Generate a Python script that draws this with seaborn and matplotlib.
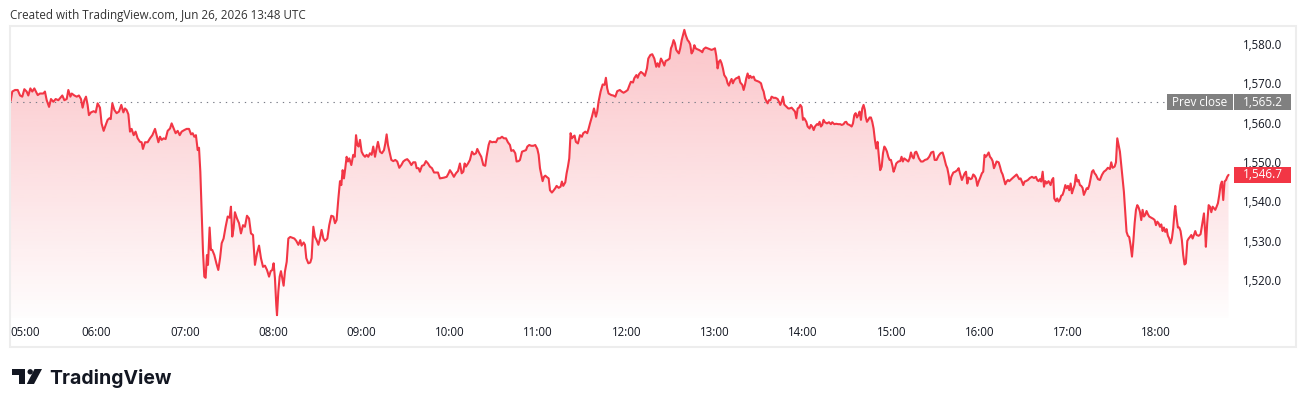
import numpy as np
import pandas as pd
import seaborn as sns
import matplotlib.pyplot as plt
import matplotlib.dates as mdates
import matplotlib.colors as mcolors
from matplotlib.patches import Rectangle, Polygon, Ellipse
from matplotlib.transforms import blended_transform_factory

# minutes after 05:00 and the traded price at that moment
minutes = [
    1.6, 2.7, 4.6, 6.4, 8.0, 9.5, 10.9, 12.5, 13.6, 15.0,
    16.3, 17.7, 18.8, 20.0, 21.5, 23.8, 24.9, 26.1, 27.7, 29.0,
    30.6, 32.2, 34.0, 35.1, 36.7, 38.1, 39.7, 40.8, 42.2, 43.1,
    44.9, 46.5, 48.0, 49.4, 50.5, 51.7, 52.8, 53.9, 54.8, 56.2,
    58.0, 59.4, 60.7, 62.3, 63.4, 64.8, 66.2, 67.5, 68.7, 69.6,
    70.7, 72.1, 73.6, 75.2, 76.8, 78.2, 79.3, 80.4, 81.6, 82.7,
    83.8, 85.2, 86.5, 87.9, 89.5, 90.6, 91.5, 92.9, 94.7, 96.3,
    97.9, 99.7, 100.8, 102.0, 103.1, 104.2, 105.6, 106.9, 108.3, 109.9,
    111.0, 112.4, 113.7, 115.1, 116.5, 117.8, 119.6, 121.2, 122.8, 124.2,
    125.3, 126.4, 127.5, 128.7, 129.6, 130.5, 131.4, 132.3, 133.2, 134.1,
    135.0, 135.7, 136.8, 137.7, 138.6, 140.0, 141.4, 142.7, 143.9, 145.0,
    146.3, 147.7, 149.1, 150.4, 151.3, 152.2, 153.1, 154.0, 155.4, 156.8,
    158.1, 159.5, 160.8, 162.2, 163.6, 164.9, 166.3, 167.6, 169.0, 170.4,
    171.7, 173.1, 174.4, 175.8, 177.2, 178.3, 179.4, 180.3, 181.2, 182.1,
    182.6, 183.5, 184.4, 185.3, 186.2, 187.1, 188.0, 189.2, 190.3, 191.6,
    193.0, 194.4, 195.7, 197.1, 198.4, 199.3, 200.7, 201.6, 202.5, 203.9,
    205.2, 206.1, 207.3, 208.4,
    209.5, 210.7, 211.8, 212.9, 214.1, 215.2, 216.8, 218.1, 219.5, 220.9,
    222.0, 223.1, 224.3, 225.4, 226.3, 227.2, 228.1, 229.0, 229.9, 230.8,
    231.7, 233.1, 234.4, 235.4, 236.3, 237.2, 238.1, 239.0, 240.1, 241.2,
    242.4, 243.5, 244.6, 245.8, 246.9, 248.0, 249.2, 250.3, 251.2, 252.6,
    253.9, 255.3, 256.2, 257.1, 258.0, 258.9, 260.3, 261.6, 263.0, 264.3,
    265.7, 267.1, 268.4, 269.8, 271.1, 272.5, 273.9, 275.2, 276.6, 277.5,
    278.8, 279.7, 281.1, 282.5, 283.8, 285.2, 286.5, 287.9, 289.3, 290.6,
    292.0, 293.3, 294.7, 296.1, 297.9, 299.2, 300.1, 301.5, 302.8, 304.2,
    305.6, 306.9, 308.1, 309.2, 310.1, 311.0, 312.4, 313.7, 315.1, 316.4,
    317.8, 318.7, 320.1, 321.4, 322.8, 324.1, 325.0, 326.4, 327.3, 328.7,
    330.0, 331.4, 332.7, 334.1, 335.5, 336.8, 338.2, 339.5, 340.9, 341.8,
    343.2, 344.5, 345.4, 346.8, 347.7, 349.1, 350.4, 351.8, 352.7, 354.0,
    355.4, 356.8, 358.1, 359.5, 360.4, 361.3, 362.2, 363.1, 364.0, 364.9,
    365.8, 367.2, 368.1, 369.4, 370.3, 371.7, 372.6, 374.0, 375.3, 376.2,
    377.1, 378.5, 379.4, 380.3, 381.2, 382.1, 383.0, 383.9, 384.8, 385.7,
    387.1, 388.5, 389.8, 390.7, 392.1, 393.4, 394.4, 395.3, 396.6, 398.0,
    399.3, 400.2, 401.1, 402.5, 403.9, 405.2, 406.1, 407.0, 407.9, 409.8,
    411.1, 412.5, 413.8, 415.6,
    416.8, 418.1, 419.5, 420.9, 422.2, 423.1, 424.5, 425.4, 426.8, 427.7,
    428.6, 429.9, 431.3, 432.6, 434.0, 434.9, 436.3, 437.6, 439.0, 440.3,
    441.2, 442.2, 443.5, 444.4, 445.8, 446.7, 448.0, 449.4, 450.3, 451.2,
    452.1, 453.0, 453.9, 454.8, 455.7, 456.6, 457.6, 458.5, 459.4, 460.3,
    461.6, 462.5, 463.4, 464.3, 465.3, 466.2, 467.1, 468.0, 469.3, 470.7,
    471.6, 472.5, 473.9, 475.2, 476.6, 477.9, 479.3, 480.2, 481.1, 482.0,
    482.9, 483.8, 484.7, 485.6, 486.5, 487.9, 488.8, 489.7, 490.6, 491.5,
    492.4, 493.3, 494.7, 495.6, 496.5, 497.4, 498.8, 499.7, 500.6, 501.5,
    502.4, 503.3, 504.2, 505.1, 506.5, 507.4, 508.7, 510.1, 511.5, 512.4,
    513.3, 514.2, 515.1, 516.0, 516.9, 517.8, 518.7, 520.1, 521.4, 522.8,
    523.7, 524.6, 525.5, 526.4, 527.3, 528.7, 530.0, 530.9, 532.3, 533.7,
    534.6, 535.5, 536.4, 537.3, 538.2, 539.1, 540.0, 540.9, 542.3, 543.2,
    544.5, 545.4, 546.3, 547.3, 548.2, 549.5, 550.4, 551.3, 552.2, 553.1,
    554.0, 554.9, 556.3, 557.7, 559.0, 559.9, 561.3, 562.6, 564.0, 565.4,
    566.3, 567.6, 568.5, 569.4, 570.3, 571.7, 573.1, 574.0, 574.9, 575.8,
    576.7, 577.6, 578.5, 579.4, 580.3, 581.2, 582.1, 582.6, 583.5, 584.4,
    585.3, 586.2, 587.1, 588.0, 588.9, 589.8, 590.7, 591.6, 592.5, 593.5,
    594.4, 595.3, 596.2, 597.1, 598.0, 598.9, 599.8, 600.7, 601.6, 602.5,
    603.4, 604.8, 606.1, 607.0, 607.9, 608.8, 610.2, 611.6, 612.5, 613.4,
    614.3, 615.2, 616.1, 617.0, 617.9, 618.8, 620.2, 621.5, 622.9,
    624.5, 625.8, 627.2, 628.6, 629.5, 630.8, 632.2, 633.5, 634.9, 635.8,
    637.2, 638.1, 639.0, 639.9, 640.8, 642.2, 643.5, 644.9, 645.8, 646.7,
    648.0, 648.9, 649.9, 650.8, 651.7, 652.6, 653.9, 654.8, 655.7, 656.6,
    657.6, 658.5, 659.4, 660.3, 661.6, 662.5, 663.4, 664.3, 665.3, 666.2,
    667.1, 668.0, 668.9, 669.8, 670.7, 671.6, 673.0, 673.9, 674.8, 675.7,
    676.6, 677.5, 678.4, 679.3, 680.2, 681.6, 682.5, 683.4, 684.3, 685.2,
    686.1, 687.0, 687.9, 688.8, 689.7, 690.6, 691.5, 692.9, 694.2, 695.6,
    697.0, 698.3, 699.2, 700.1, 701.0, 701.9, 702.9, 703.8, 704.7, 705.6,
    706.9, 708.3, 709.2, 710.1, 710.8, 711.9, 712.8, 713.7, 714.6, 715.5,
    716.4, 717.3, 718.3, 719.2, 720.1, 721.0, 721.9, 722.8, 723.7, 724.6,
    725.5, 726.4, 727.3, 728.2, 729.1, 730.0, 730.9, 731.8, 732.8, 733.7,
    734.6, 735.5, 736.4, 737.3, 738.2, 739.1, 740.5, 741.8, 743.2, 744.5,
    745.9, 747.2, 748.6, 749.5, 750.4, 751.8, 752.7, 753.6, 754.5, 755.4,
    756.3, 757.2, 758.1, 759.0, 759.9, 760.8, 761.7, 762.6, 763.6, 764.5,
    765.4, 766.3, 767.2, 768.1, 769.0, 769.9, 770.8, 771.7, 772.6, 773.5,
    774.4, 775.3, 776.7, 778.1, 779.0, 779.9, 780.8, 781.7, 782.6, 783.5,
    784.4, 785.3, 786.2, 787.1, 788.0, 788.9, 789.8, 790.7, 791.6, 792.5,
    793.0, 793.9, 794.8, 795.7, 796.6, 797.5, 798.4, 799.3, 800.2, 801.2,
    802.1, 803.0, 803.9, 804.8, 805.7, 806.6, 807.5, 808.9, 810.2, 811.6,
    812.5, 813.4, 813.8, 814.7, 815.7, 816.6, 817.5, 818.4, 819.3, 820.2,
    821.1, 822.0, 822.9, 823.8, 824.7, 825.6, 826.5, 827.5, 828.3, 829.2,
]

prices = [
    1565.5, 1567.9, 1568.3, 1568.3, 1566.9, 1566.6, 1568.5, 1567.9, 1566.9, 1568.7,
    1567.9, 1568.7, 1567.9, 1567.0, 1567.4, 1567.4, 1567.9, 1565.7, 1564.0, 1566.0,
    1565.3, 1566.0, 1565.7, 1566.2, 1566.9, 1565.7, 1566.0, 1568.3, 1566.6, 1567.4,
    1566.9, 1566.6, 1566.9, 1566.0, 1563.8, 1565.7, 1566.6, 1564.5, 1561.9, 1562.6,
    1562.9, 1562.6, 1564.9, 1563.8, 1559.8, 1557.9, 1559.4, 1560.7, 1561.1, 1560.9,
    1564.9, 1563.2, 1562.4, 1562.8, 1564.5, 1562.6, 1563.6, 1563.2, 1562.1, 1557.7,
    1558.4, 1556.8, 1557.7, 1556.0, 1555.1, 1555.0, 1553.3, 1555.0, 1555.0, 1556.0,
    1556.8, 1558.4, 1556.8, 1555.0, 1556.4, 1555.6, 1556.0, 1555.8, 1557.9, 1558.5,
    1559.8, 1558.5, 1557.3, 1557.9, 1556.8, 1557.7, 1558.1, 1558.4, 1558.4, 1557.0,
    1557.3, 1556.4, 1556.8, 1553.0, 1553.6, 1547.5, 1537.3, 1527.2, 1520.8, 1520.5,
    1526.3, 1523.8, 1533.3, 1527.6, 1527.6, 1526.3, 1524.2, 1522.5, 1525.5, 1529.3,
    1530.5, 1533.5, 1536.1, 1535.8, 1538.6, 1531.0, 1533.1, 1537.2, 1535.6, 1534.4,
    1531.8, 1533.9, 1533.5, 1536.3, 1535.6, 1531.8, 1531.4, 1523.8, 1526.7, 1528.7,
    1525.5, 1523.3, 1523.6, 1522.5, 1520.8, 1522.2, 1522.5, 1524.2, 1520.4, 1513.6,
    1511.0, 1517.0, 1520.8, 1522.2, 1520.4, 1518.5, 1522.1, 1524.6, 1530.5, 1530.9,
    1530.7, 1530.5, 1529.9, 1528.9, 1530.1, 1528.7, 1529.5, 1528.9, 1525.5, 1524.2,
    1524.4, 1525.5, 1533.5, 1530.9,
    1530.1, 1528.9, 1530.5, 1532.7, 1530.5, 1529.9, 1530.5, 1533.9, 1536.3, 1536.1,
    1534.4, 1535.2, 1540.7, 1545.1, 1544.1, 1547.9, 1545.8, 1548.4, 1551.3, 1550.1,
    1550.9, 1549.2, 1551.8, 1551.3, 1556.8, 1554.3, 1553.9, 1555.6, 1552.6, 1551.8,
    1551.3, 1551.8, 1551.3, 1552.2, 1551.8, 1553.9, 1551.3, 1553.5, 1555.1, 1552.6,
    1552.2, 1553.0, 1554.7, 1557.0, 1554.3, 1552.8, 1550.5, 1550.2, 1550.5, 1550.1,
    1548.5, 1549.2, 1550.1, 1550.5, 1550.7, 1550.1, 1549.2, 1549.9, 1549.9, 1548.4,
    1548.4, 1547.5, 1549.0, 1549.2, 1550.2, 1549.6, 1548.8, 1548.4, 1547.3, 1547.3,
    1547.3, 1545.8, 1545.9, 1546.0, 1546.2, 1547.1, 1547.9, 1547.1, 1546.2, 1547.1,
    1547.7, 1549.6, 1547.1, 1547.5, 1549.6, 1548.8, 1549.6, 1550.5, 1552.6, 1551.9,
    1552.2, 1553.3, 1552.2, 1551.3, 1549.2, 1549.0, 1551.3, 1554.3, 1555.3, 1555.0,
    1555.1, 1555.0, 1556.0, 1556.0, 1556.4, 1556.0, 1556.0, 1555.0, 1554.3, 1552.8,
    1553.0, 1552.2, 1550.1, 1550.2, 1550.5, 1552.6, 1552.8, 1553.0, 1553.9, 1554.3,
    1554.1, 1554.1, 1554.3, 1553.3, 1551.8, 1548.4, 1546.7, 1545.1, 1546.2, 1546.5,
    1546.2, 1545.8, 1542.8, 1542.2, 1542.6, 1543.3, 1543.9, 1543.4, 1543.7, 1545.0,
    1543.9, 1544.8, 1547.1, 1548.8, 1550.9, 1557.3, 1556.0, 1556.4, 1556.7, 1555.1,
    1554.7, 1556.8, 1556.4, 1557.3, 1557.7, 1557.3, 1558.5, 1559.8, 1561.5, 1563.6,
    1561.5, 1562.8, 1565.3, 1567.9, 1569.7, 1569.6, 1571.4, 1568.7, 1567.4, 1567.0,
    1566.9, 1566.6, 1568.0, 1568.3,
    1567.9, 1567.6, 1567.9, 1568.3, 1569.6, 1570.4, 1570.2, 1571.3, 1572.1, 1571.4,
    1572.3, 1572.9, 1572.5, 1571.9, 1573.8, 1576.3, 1577.2, 1577.4, 1576.3, 1574.2,
    1575.1, 1574.2, 1576.3, 1575.7, 1574.5, 1575.7, 1575.9, 1576.3, 1578.9, 1579.7,
    1581.0, 1580.2, 1578.5, 1578.0, 1577.6, 1578.9, 1581.0, 1582.3, 1583.6, 1582.3,
    1581.0, 1580.6, 1579.9, 1577.6, 1578.2, 1579.7, 1578.9, 1578.7, 1578.5, 1578.2,
    1577.9, 1578.7, 1579.1, 1578.9, 1578.7, 1578.5, 1578.7, 1578.9, 1577.0, 1573.8,
    1575.5, 1575.9, 1575.1, 1573.8, 1572.1, 1571.3, 1570.0, 1569.4, 1570.4, 1571.1,
    1570.0, 1570.8, 1571.3, 1571.4, 1571.7, 1570.2, 1569.6, 1568.3, 1569.6, 1571.3,
    1572.5, 1571.3, 1571.9, 1571.4, 1571.7, 1570.8, 1570.6, 1570.4, 1570.0, 1568.7,
    1567.9, 1566.2, 1565.5, 1564.9, 1565.7, 1565.7, 1566.6, 1566.3, 1566.3, 1566.0,
    1565.3, 1564.5, 1565.3, 1566.6, 1564.6, 1564.1, 1563.6, 1563.6, 1563.8, 1563.2,
    1562.8, 1561.1, 1563.6, 1563.8, 1564.5, 1564.0, 1560.7, 1561.1, 1560.2, 1559.0,
    1558.5, 1559.4, 1559.0, 1558.1, 1559.0, 1559.6, 1559.4, 1560.2, 1559.0, 1559.4,
    1560.7, 1560.1, 1559.8, 1560.1, 1559.6, 1560.1, 1559.6, 1559.7, 1559.6, 1559.6,
    1559.4, 1559.6, 1560.1, 1560.2, 1559.6, 1559.4, 1559.0, 1559.8, 1561.9, 1562.4,
    1561.3, 1561.9, 1562.8, 1560.7, 1563.6, 1564.5, 1563.2, 1561.5, 1560.2, 1560.7,
    1561.3, 1561.3, 1560.2, 1558.5, 1555.6, 1553.4, 1555.1, 1551.3, 1547.9, 1548.8,
    1552.2, 1553.9, 1553.4, 1552.6, 1551.3, 1550.5, 1550.5, 1549.2, 1547.5, 1548.4,
    1549.6, 1550.1, 1550.2, 1551.3, 1550.1, 1550.9, 1550.5, 1550.1, 1550.9, 1552.4,
    1551.3, 1550.9, 1552.4, 1552.6, 1551.8, 1550.9, 1550.1, 1550.1, 1550.5,
    1550.7, 1551.3, 1552.4, 1552.6, 1550.5, 1550.5, 1551.6, 1552.2, 1552.4, 1551.3,
    1549.2, 1548.4, 1546.7, 1544.3, 1546.2, 1547.3, 1547.5, 1547.9, 1548.4, 1547.1,
    1545.4, 1546.2, 1547.1, 1547.5, 1544.5, 1546.0, 1545.6, 1545.8, 1546.8, 1546.5,
    1545.8, 1543.9, 1545.0, 1545.8, 1547.1, 1547.5, 1551.8, 1551.3, 1551.8, 1552.4,
    1551.3, 1550.9, 1550.2, 1548.4, 1549.2, 1550.1, 1549.9, 1548.8, 1547.5, 1546.8,
    1545.6, 1544.3, 1545.0, 1545.4, 1545.1, 1545.6, 1545.9, 1546.2, 1546.5, 1546.8,
    1546.2, 1545.6, 1545.8, 1545.0, 1544.1, 1545.0, 1545.1, 1545.4, 1545.9, 1546.2,
    1545.9, 1546.2, 1545.4, 1545.1, 1545.6, 1545.0, 1547.5, 1543.7, 1545.1, 1544.5,
    1545.1, 1544.1, 1545.4, 1545.9, 1540.7, 1540.0, 1540.7, 1539.9, 1540.3, 1541.4,
    1541.6, 1542.6, 1544.1, 1543.3, 1543.9, 1542.8, 1544.5, 1542.0, 1543.1, 1544.1,
    1546.7, 1545.0, 1545.4, 1544.1, 1543.9, 1543.4, 1541.6, 1542.4, 1543.3, 1543.1,
    1544.1, 1545.8, 1547.5, 1547.9, 1547.1, 1546.7, 1545.6, 1545.4, 1546.7, 1547.5,
    1547.9, 1548.5, 1548.2, 1549.9, 1548.5, 1548.8, 1549.9, 1556.0, 1554.3, 1552.6,
    1549.2, 1545.8, 1542.4, 1537.3, 1532.2, 1531.2, 1530.9, 1528.9, 1525.9, 1529.7,
    1534.4, 1537.8, 1539.0, 1538.4, 1537.3, 1535.2, 1537.8, 1536.1, 1536.5, 1537.5,
    1536.7, 1536.1, 1535.8, 1535.5, 1535.2, 1533.9, 1534.8, 1534.4, 1533.5, 1534.1,
    1532.4, 1533.3, 1532.2, 1532.9, 1531.2, 1530.5, 1529.3, 1530.5, 1533.1, 1537.3,
    1538.8, 1535.8, 1533.3, 1533.3, 1532.4, 1530.1, 1526.3, 1523.9, 1524.2, 1529.9,
    1530.5, 1530.9, 1531.4, 1530.5, 1531.4, 1532.4, 1531.4, 1531.2, 1531.6, 1534.8,
    1536.9, 1531.6, 1528.4, 1534.4, 1539.0, 1538.6, 1537.2, 1538.6, 1538.2, 1537.8,
    1538.6, 1539.5, 1541.6, 1544.1, 1545.0, 1540.3, 1545.0, 1545.4, 1546.2, 1546.7,
]

prev_close = 1565.2
last_price = 1546.7
price_ticks = [1520, 1530, 1540, 1550, 1560, 1570, 1580]
hour_labels = ["05:00", "06:00", "07:00", "08:00", "09:00", "10:00", "11:00",
               "12:00", "13:00", "14:00", "15:00", "16:00", "17:00", "18:00"]
created_text = "Created with TradingView.com, Jun 26, 2026 13:48 UTC"

RED = "#f23645"
GREY = "#808080"
INK = "#131722"

W, H = 1306, 407

sns.set_theme(style="white")
plt.rcParams['font.family'] = ['Open Sans', 'DejaVu Sans']


def fx(x):
    return x / W


def fy(y):
    return 1 - y / H


start = pd.Timestamp("2026-06-26 05:00")
df = pd.DataFrame({"minute": minutes, "price": prices})
df["time"] = start + pd.to_timedelta(df["minute"], unit="min")

fig = plt.figure(figsize=(W / 100, H / 100), dpi=100)
fig.patch.set_facecolor("white")
ax = fig.add_axes([fx(10), fy(318), (1230 - 10) / W, (318 - 26) / H])
ax.set_facecolor("white")

y_lo, y_hi = 1510.28, 1584.58
t_lo = start + pd.Timedelta(minutes=1.16)
t_hi = start + pd.Timedelta(minutes=830.2)

sns.lineplot(data=df, x="time", y="price", ax=ax, color=RED, linewidth=1.5,
             estimator=None, zorder=4)

# gradient area under the line
poly = ax.fill_between(df["time"], df["price"], y_lo, facecolor="none",
                       edgecolor="none")
grad = np.zeros((256, 1, 4))
grad[..., :3] = mcolors.to_rgb(RED)
grad[:, 0, 3] = np.linspace(0.30, 0.01, 256)
x0n, x1n = mdates.date2num(t_lo), mdates.date2num(t_hi)
im = ax.imshow(grad, aspect="auto", extent=[x0n, x1n, y_lo, y_hi],
               origin="upper", zorder=2, interpolation="bilinear")
im.set_clip_path(poly.get_paths()[0], transform=ax.transData)

ax.set_xlim(t_lo, t_hi)
ax.set_ylim(y_lo, y_hi)

# previous close dotted line
ax.axhline(prev_close, xmin=0, xmax=(1167 - 10) / 1220, color="#787b86",
           lw=0.8, linestyle=(0, (1.2, 4.5)), zorder=3)

for s in ax.spines.values():
    s.set_visible(False)
ax.grid(False)
ax.set_xlabel("")
ax.set_ylabel("")

ax.yaxis.tick_right()
ax.set_yticks(price_ticks)
ax.set_yticklabels([f"{v:,.1f}" for v in price_ticks])
ax.tick_params(axis="y", length=0, pad=9.3, labelsize=8.3, colors=INK)

hour_ticks = [start + pd.Timedelta(hours=h) for h in range(1, len(hour_labels))]
ax.set_xticks(hour_ticks)
ax.set_xticklabels(hour_labels[1:])
ax.tick_params(axis="x", length=0, pad=5.8, labelsize=8.3, colors=INK)
fig.text(fx(10), fy(332), hour_labels[0], ha="left", va="center",
         fontsize=8.3, color=INK)

# price scale labels
tr = blended_transform_factory(fig.transFigure, ax.transData)
box_h = 16.5 / 3.93
for x0, x1, yv, txt, col in [
    (1167.3, 1232.7, prev_close, "Prev close", GREY),
    (1234, 1291, prev_close, f"{prev_close:,.1f}", GREY),
    (1234, 1291, last_price, f"{last_price:,.1f}", RED),
]:
    ax.add_artist(Rectangle((fx(x0), yv - box_h / 2), (x1 - x0) / W, box_h,
                            transform=tr, facecolor=col, edgecolor="none",
                            clip_on=False, zorder=5))
    ax.text(fx((x0 + x1) / 2), yv, txt, transform=tr, ha="center",
            va="center", color="white", fontsize=8.5, clip_on=False, zorder=6)

# chart frame
fig.add_artist(Rectangle((fx(9.5), fy(346.5)), (1296 - 9.5) / W,
                         (346.5 - 25.5) / H, transform=fig.transFigure,
                         fill=False, edgecolor="#ededed", lw=1.5))

fig.text(fx(10), fy(15), created_text, ha="left", va="center",
         fontsize=8.4, color="#333333")

# TradingView logo
def pts(coords):
    return [(fx(a), fy(b)) for a, b in coords]

fig.add_artist(Polygon(pts([(11.7, 369), (25, 369), (25, 384), (18.5, 384),
                            (18.5, 374.5), (11.7, 374.5)]),
                       closed=True, transform=fig.transFigure,
                       facecolor=INK, edgecolor="none"))
fig.add_artist(Ellipse((fx(30.2), fy(371.8)), 5.4 / W, 5.4 / H,
                       transform=fig.transFigure, facecolor=INK,
                       edgecolor="none"))
fig.add_artist(Polygon(pts([(34.5, 369), (42, 369), (34, 384), (26.8, 384)]),
                       closed=True, transform=fig.transFigure,
                       facecolor=INK, edgecolor="none"))
fig.text(fx(49), fy(384), "TradingView", ha="left", va="baseline",
         fontsize=14, fontweight="bold", color=INK, family=["Inter", "DejaVu Sans"])

fig.savefig("out.png", dpi=100, facecolor="white")
